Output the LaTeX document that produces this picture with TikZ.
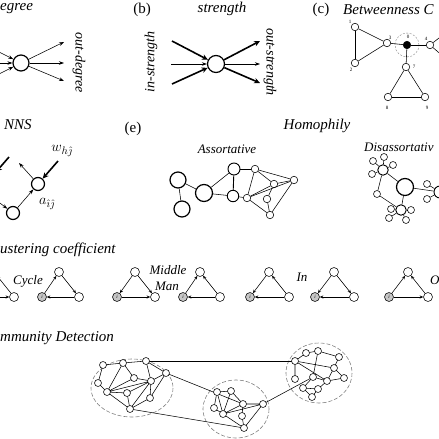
\documentclass[tikz,border=0pt]{standalone}
\usepackage{fontspec}
\setmainfont{Liberation Serif}
\usetikzlibrary{arrows.meta}
\begin{document}
\begin{tikzpicture}[x=1pt,y=-1pt,
  ttl/.style={font=\fontsize{15}{15}\selectfont\itshape, inner sep=0pt},
  ttr/.style={font=\fontsize{15}{15}\selectfont, inner sep=0pt},
  sub/.style={font=\fontsize{13}{13}\selectfont\itshape, inner sep=0pt},
  side/.style={font=\fontsize{14}{14}\selectfont\itshape, inner sep=0pt},
  num/.style={font=\fontsize{5}{5}\selectfont, inner sep=0pt},
  hub/.style={circle, draw, line width=1.2pt, minimum size=16pt, inner sep=0pt, fill=white},
  sn/.style={circle, draw, line width=0.55pt, minimum size=7.5pt, inner sep=0pt, fill=white},
  cn/.style={circle, draw, line width=0.55pt, minimum size=7pt, inner sep=0pt, fill=white},
  tn/.style={circle, draw, line width=0.55pt, minimum size=9pt, inner sep=0pt, fill=white},
  ti/.style={tn, fill=gray!45, font=\fontsize{5}{5}\selectfont\itshape},
  ln/.style={line width=0.55pt},
  arr/.style={line width=0.55pt, -{Stealth[length=5pt,width=3.5pt]}},
  carr/.style={line width=0.55pt, -{Stealth[length=3.5pt,width=3pt]}},
  tarr/.style={line width=1.6pt, -{Stealth[length=6pt,width=5.5pt]}},
  grp/.style={draw=gray, dashed, dash pattern=on 4pt off 2pt, line width=0.6pt}
]
\useasboundingbox (0,0) rectangle (439,439);
\clip (0,0) rectangle (439,439);

% ---------- (a) degree ----------
\node[ttl, anchor=west] (ta) at (0,9) {egree};
\node[hub] (ac) at (21,63) {};
\coordinate (ai1) at (-25,40);
\coordinate (ai2) at (-25,63);
\coordinate (ai3) at (-25,86);
\draw[arr] (ai1) -- (ac);
\draw[arr] (ai2) -- (ac);
\draw[arr] (ai3) -- (ac);
\coordinate (ao1) at (64,42);
\coordinate (ao2) at (64,63);
\coordinate (ao3) at (64,81);
\draw[arr] (ac) -- (ao1);
\draw[arr] (ac) -- (ao2);
\draw[arr] (ac) -- (ao3);
\node[side, rotate=-90] (od) at (79,63) {out-degree};

% ---------- (b) strength ----------
\node[ttr] (lb) at (142,10) {(b)};
\node[ttl] (tb) at (222,9) {strength};
\node[hub, minimum size=17pt] (bc) at (216,64) {};
\coordinate (bi1) at (172,41);
\coordinate (bi2) at (171,64);
\coordinate (bi3) at (172,84);
\draw[tarr] (bi1) -- (bc);
\draw[arr] (bi2) -- (bc);
\draw[tarr] (bi3) -- (bc);
\coordinate (bo1) at (260,41);
\coordinate (bo2) at (260,64);
\coordinate (bo3) at (260,83);
\draw[tarr] (bc) -- (bo1);
\draw[arr] (bc) -- (bo2);
\draw[tarr] (bc) -- (bo3);
\node[side, rotate=90] (ins) at (151,62) {in-strength};
\node[side, rotate=-90] (outs) at (270,62) {out-strength};

% ---------- (c) betweenness ----------
\node[ttr] (lc) at (321,10) {(c)};
\node[ttl, anchor=west] (tc) at (343,10) {Betweenness C};
\node[draw=gray, dashed, dash pattern=on 2pt off 1.5pt, circle, minimum size=24pt, inner sep=0pt] (p0r) at (407,45) {};
\node[sn] (p1) at (355,27) {};
\node[sn] (p2) at (355,63) {};
\node[sn] (p3) at (387,43) {};
\node[sn, fill=black] (p0) at (407,45) {};
\node[sn] (p4) at (430,45) {};
\node[sn] (p7) at (406,67) {};
\node[sn] (p8) at (388,97) {};
\node[sn] (p9) at (425,97) {};
\coordinate (p5) at (452,28);
\coordinate (p6) at (452,64);
\draw[ln] (p1) -- (p2);
\draw[ln] (p1) -- (p3);
\draw[ln] (p2) -- (p3);
\draw[ln] (p3) -- (p0);
\draw[ln] (p0) -- (p4);
\draw[ln] (p0) -- (p7);
\draw[ln] (p7) -- (p8);
\draw[ln] (p7) -- (p9);
\draw[ln] (p8) -- (p9);
\draw[ln] (p4) -- (p5);
\draw[ln] (p4) -- (p6);
\node[num] (q1) at (350,22) {1};
\node[num] (q2) at (351,70) {2};
\node[num] (q3) at (390,38) {3};
\node[num] (q0) at (408,37) {0};
\node[num] (q4) at (426,39) {4};
\node[num] (q7) at (414,67) {7};
\node[num] (q8) at (387,108) {8};
\node[num] (q9) at (427,108) {9};

% ---------- (d) ANNS ----------
\node[ttl, anchor=west] (td) at (4,125) {NNS};
\node[hub, minimum size=13pt] (dA) at (38,184) {};
\node[hub, minimum size=13pt] (dB) at (13,213) {};
\coordinate (din) at (-12,194);
\draw[arr] (din) -- (dB);
\draw[arr] (dB) -- (dA);
\coordinate (dout) at (19,163);
\draw[arr] (dA) -- (dout);
\coordinate (dw) at (58,161);
\draw[tarr] (dw) -- (dA);
\coordinate (dq1) at (9,157);
\coordinate (dq2) at (-4,172);
\draw[tarr] (dq1) -- (dq2);
\node[font=\fontsize{15}{15}\selectfont, inner sep=0pt] (lw) at (62,151) {$w_{h\hat{\jmath}}$};
\node[font=\fontsize{15}{15}\selectfont, inner sep=0pt] (la) at (47,204) {$a_{\hat{\imath}\hat{\jmath}}$};

% ---------- (e) homophily ----------
\node[ttr] (le) at (133,129) {(e)};
\node[ttl] (te) at (317,126) {Homophily};
\node[sub] (tas) at (227,149) {Assortative};
\node[sub, anchor=west] (tds) at (364,147) {Disassortativ};
% assortative
\node[hub, minimum size=16pt] (N1) at (178,180) {};
\node[hub, minimum size=16pt] (N2) at (182,209) {};
\node[hub, minimum size=17pt] (N3) at (204,193) {};
\node[hub, minimum size=12pt, line width=0.9pt] (N4) at (234,169) {};
\node[hub, minimum size=11.5pt, line width=0.9pt] (N5) at (233,196) {};
\node[sn] (s1) at (255,169) {};
\node[sn] (s2) at (247,198) {};
\node[sn] (s3) at (274,184) {};
\node[sn] (s4) at (294,180) {};
\node[sn] (s5) at (267,199) {};
\node[sn] (s6) at (270,215) {};
\draw[ln] (N1) -- (N2);
\draw[ln] (N1) -- (N3);
\draw[ln] (N3) -- (N4);
\draw[ln] (N3) -- (N5);
\draw[line width=0.9pt] (N4) -- (N5);
\draw[ln] (N4) -- (s1);
\draw[ln] (N5) -- (s2);
\draw[ln] (s1) -- (s2);
\draw[ln] (s1) -- (s3);
\draw[ln] (s1) -- (s4);
\draw[ln] (s2) -- (s3);
\draw[ln] (s2) -- (s4);
\draw[ln] (s2) -- (s6);
\draw[ln] (s3) -- (s5);
\draw[ln] (s5) -- (s6);
\draw[ln] (s4) -- (s6);
\draw[ln] (s3) -- (s4);
% disassortative
\node[hub, minimum size=17pt] (H) at (405,187) {};
\node[hub, minimum size=10.5pt, line width=0.9pt] (M1) at (383,170) {};
\node[hub, minimum size=10.5pt, line width=0.9pt] (M2) at (401,210) {};
\node[hub, minimum size=12pt, line width=0.9pt] (M3) at (440,192) {};
\node[sn, minimum size=7pt] (m11) at (373,161) {};
\node[sn, minimum size=7pt] (m12) at (384,157) {};
\node[sn, minimum size=7pt] (m13) at (393,165) {};
\node[sn, minimum size=7pt] (m14) at (372,174) {};
\node[sn, minimum size=7pt] (mj) at (377,194) {};
\node[sn, minimum size=7pt] (m21) at (391,209) {};
\node[sn, minimum size=7pt] (m22) at (411,210) {};
\node[sn, minimum size=7pt] (m23) at (389,218) {};
\node[sn, minimum size=7pt] (m24) at (406,220) {};
\node[sn, minimum size=7pt] (m31) at (427,184) {};
\node[sn, minimum size=7pt] (m32) at (427,199) {};
\draw[ln] (H) -- (M1);
\draw[ln] (H) -- (M2);
\draw[ln] (H) -- (M3);
\draw[ln] (M1) -- (mj);
\draw[ln] (mj) -- (M2);
\draw[ln] (M1) -- (m11);
\draw[ln] (M1) -- (m12);
\draw[ln] (M1) -- (m13);
\draw[ln] (M1) -- (m14);
\draw[ln] (M2) -- (m21);
\draw[ln] (M2) -- (m22);
\draw[ln] (M2) -- (m23);
\draw[ln] (M2) -- (m24);
\draw[ln] (M3) -- (m31);
\draw[ln] (M3) -- (m32);

% ---------- clustering coefficient ----------
\node[ttl, anchor=west] (tf) at (0,250) {ustering coefficient};
\node[sub] (lcy) at (28,281) {Cycle};
\node[sub] (lmi) at (168,270) {Middle};
\node[sub] (lma) at (167,286) {Man};
\node[sub] (lin) at (302,277) {In};
\node[sub, anchor=west] (lou) at (430,280) {O};
% T1
\node[tn, fill=gray!45] (i1) at (-23,297) {};
\node[tn] (t1) at (-6,272) {};
\node[tn] (r1) at (14,297) {};
\draw[carr] (i1) -- (r1);
\draw[carr] (r1) -- (t1);
\draw[carr] (t1) -- (i1);
% T2
\node[ti] (i2) at (42,297) {i};
\node[tn] (t2) at (59,272) {};
\node[tn] (r2) at (79,297) {};
\draw[carr] (i2) -- (t2);
\draw[carr] (t2) -- (r2);
\draw[carr] (r2) -- (i2);
% T3
\node[ti] (i3) at (117,297) {i};
\node[tn] (t3) at (135,272) {};
\node[tn] (r3) at (155,297) {};
\draw[carr] (t3) -- (i3);
\draw[carr] (t3) -- (r3);
\draw[carr] (i3) -- (r3);
% T4
\node[ti] (i4) at (183,297) {i};
\node[tn] (t4) at (200,272) {};
\node[tn] (r4) at (220,297) {};
\draw[carr] (i4) -- (t4);
\draw[carr] (r4) -- (t4);
\draw[carr] (r4) -- (i4);
% T5
\node[ti] (i5) at (250,297) {i};
\node[tn] (t5) at (269,272) {};
\node[tn] (r5) at (289,297) {};
\draw[carr] (t5) -- (i5);
\draw[carr] (r5) -- (t5);
\draw[carr] (r5) -- (i5);
% T6
\node[ti] (i6) at (315,297) {i};
\node[tn] (t6) at (334,272) {};
\node[tn] (r6) at (354,297) {};
\draw[carr] (t6) -- (i6);
\draw[carr] (t6) -- (r6);
\draw[carr] (r6) -- (i6);
% T7
\node[ti] (i7) at (389,297) {i};
\node[tn] (t7) at (408,272) {};
\node[tn] (r7) at (428,297) {};
\draw[carr] (i7) -- (t7);
\draw[carr] (r7) -- (t7);
\draw[carr] (i7) -- (r7);

% ---------- community detection ----------
\node[ttl, anchor=west] (tg) at (0,338) {mmunity Detection};
\draw[grp] (132,388) ellipse [x radius=41, y radius=29];
\draw[grp] (236,409) ellipse [x radius=33, y radius=29];
\draw[grp] (319,373) ellipse [x radius=33, y radius=30];
% cluster A
\coordinate (ka1) at (103,365);
\coordinate (ka2) at (123,363);
\coordinate (ka3) at (146,361);
\coordinate (ka4) at (166,373);
\coordinate (ka5) at (98,383);
\coordinate (ka6) at (107,392);
\coordinate (ka7) at (134,378);
\coordinate (ka8) at (151,381);
\coordinate (ka9) at (127,393);
\coordinate (ka10) at (150,398);
\coordinate (ka11) at (130,409);
% cluster B
\coordinate (kb1) at (217,392);
\coordinate (kb2) at (231,391);
\coordinate (kb3) at (214,408);
\coordinate (kb4) at (223,414);
\coordinate (kb5) at (243,404);
\coordinate (kb6) at (263,404);
\coordinate (kb7) at (242,416);
\coordinate (kb8) at (244,428);
% cluster C
\coordinate (kc1) at (295,361);
\coordinate (kc2) at (306,353);
\coordinate (kc3) at (318,351);
\coordinate (kc4) at (339,357);
\coordinate (kc5) at (334,368);
\coordinate (kc6) at (344,378);
\coordinate (kc7) at (295,379);
\coordinate (kc8) at (313,377);
\coordinate (kc9) at (327,381);
\coordinate (kc10) at (303,388);
\coordinate (kc11) at (318,389);
\coordinate (kc12) at (312,397);
\draw[ln] (ka1) -- (ka2) (ka2) -- (ka3) (ka3) -- (ka4) (ka1) -- (ka5) (ka5) -- (ka6)
  (ka2) -- (ka6) (ka2) -- (ka7) (ka6) -- (ka7) (ka6) -- (ka8) (ka6) -- (ka9)
  (ka6) -- (ka11) (ka9) -- (ka11) (ka7) -- (ka8) (ka3) -- (ka8) (ka4) -- (ka8)
  (ka4) -- (ka10) (ka8) -- (ka10) (ka8) -- (ka11) (ka10) -- (ka11) (ka9) -- (ka8);
\draw[ln] (kb1) -- (kb2) (kb1) -- (kb3) (kb2) -- (kb4) (kb2) -- (kb5) (kb3) -- (kb4)
  (kb1) -- (kb4) (kb4) -- (kb5) (kb4) -- (kb6) (kb5) -- (kb6) (kb5) -- (kb7)
  (kb7) -- (kb8) (kb4) -- (kb8) (kb6) -- (kb8);
\draw[ln] (kc1) -- (kc2) (kc2) -- (kc3) (kc1) -- (kc7) (kc1) -- (kc5) (kc1) -- (kc9)
  (kc3) -- (kc8) (kc4) -- (kc5) (kc5) -- (kc6) (kc5) -- (kc9) (kc6) -- (kc9)
  (kc8) -- (kc9) (kc8) -- (kc10) (kc10) -- (kc11) (kc10) -- (kc12) (kc11) -- (kc12)
  (kc9) -- (kc11) (kc3) -- (kc4);
\draw[ln] (ka3) -- (kc1);
\draw[ln] (ka4) -- (kb5);
\draw[ln] (ka11) -- (kb8);
\draw[ln] (kb6) -- (kc8);
\foreach \n in {ka1,ka2,ka3,ka4,ka5,ka6,ka7,ka8,ka9,ka10,ka11,
                kb1,kb2,kb3,kb4,kb5,kb6,kb7,kb8,
                kc1,kc2,kc3,kc4,kc5,kc6,kc7,kc8,kc9,kc10,kc11,kc12}
  \node[cn] (n-\n) at (\n) {};
\end{tikzpicture}
\end{document}
